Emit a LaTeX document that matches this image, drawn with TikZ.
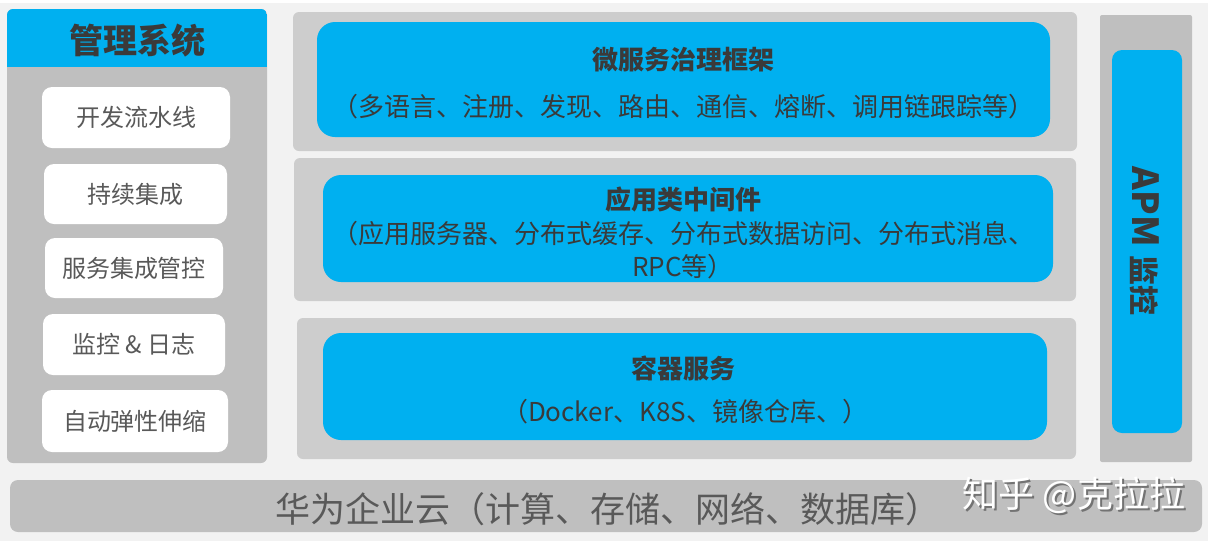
\documentclass[tikz,border=0pt]{standalone}
\usepackage{fontspec}
\setmainfont{Noto Sans CJK SC}
\definecolor{cblue}{HTML}{00B0F0}
\definecolor{bgray}{HTML}{F2F2F2}
\definecolor{pgray}{HTML}{BFBFBF}
\definecolor{mgray}{HTML}{CDCDCD}
\definecolor{tdark}{HTML}{3A3A3A}
\definecolor{tmid}{HTML}{595959}
\tikzset{
  panel/.style={fill=pgray, rounded corners=6pt},
  mpanel/.style={fill=mgray, rounded corners=6pt},
  bluebox/.style={fill=cblue, rounded corners=18pt},
  whitebox/.style={fill=white, rounded corners=10pt},
  btitle/.style={text=tdark, font=\fontsize{26}{31}\selectfont\bfseries, inner sep=0pt},
  bsub/.style={text=tdark, font=\fontsize{26}{31}\selectfont, inner sep=0pt},
  wtext/.style={text=tmid, font=\fontsize{24}{29}\selectfont, inner sep=0pt},
}
\begin{document}
\begin{tikzpicture}[x=1pt,y=-1pt]
\useasboundingbox (0,0) rectangle (1219,547);
\fill[white] (0,0) rectangle (1219,547);
\fill[bgray] (0,3) rectangle (1208,541);
% left panel
\fill[panel] (7,9) rectangle (267,463);
\begin{scope}
  \clip[rounded corners=6pt] (7,9) rectangle (267,463);
  \fill[cblue] (7,9) rectangle (267,67);
\end{scope}
\node[text=tdark, font=\fontsize{34}{40}\selectfont\bfseries, inner sep=0pt] (hdr) at (137,41) {管理系统};
\fill[whitebox] (42,87) rectangle (230,148);
\fill[whitebox] (44,164) rectangle (227,224);
\fill[whitebox] (45,238) rectangle (223,298);
\fill[whitebox] (43,314) rectangle (225,375);
\fill[whitebox] (42,390) rectangle (228,452);
\node[wtext] (w1) at (136,117) {开发流水线};
\node[wtext] (w2) at (135,194) {持续集成};
\node[wtext] (w3) at (134,268) {服务集成管控};
\node[wtext] (w4) at (134,344) {监控 \& 日志};
\node[wtext] (w5) at (135,421) {自动弹性伸缩};
% middle panels
\fill[mpanel] (293,12) rectangle (1077,151);
\fill[mpanel] (294,158) rectangle (1076,301);
\fill[mpanel] (297,318) rectangle (1076,459);
\fill[bluebox] (317,22) rectangle (1050,137);
\fill[bluebox] (323,175) rectangle (1053,282);
\fill[bluebox] (323,333) rectangle (1047,440);
\node[btitle] (t1) at (683,60) {微服务治理框架};
\node[bsub] (s1) at (683,107) {（多语言、注册、发现、路由、通信、熔断、调用链跟踪等）};
\node[btitle] (t2) at (683,200) {应用类中间件};
\node[bsub] (s2a) at (683,234) {（应用服务器、分布式缓存、分布式数据访问、分布式消息、};
\node[bsub] (s2b) at (683,267) {RPC等）};
\node[btitle] (t3) at (683,368) {容器服务};
\node[bsub] (s3) at (685,412) {（Docker、K8S、镜像仓库、）};
% APM
\fill[pgray, rounded corners=2pt] (1100,15) rectangle (1192,462);
\fill[cblue, rounded corners=10pt] (1112,50) rectangle (1182,433);
\node[text=tdark, inner sep=0pt, rotate=-90] (apm) at (1145,241) {\fontsize{36}{40}\selectfont\bfseries APM \fontsize{30}{36}\selectfont 监控};
% bottom bar
\fill[pgray, rounded corners=8pt] (10,480) rectangle (1202,532);
\node[text=tmid, font=\fontsize{35}{40}\selectfont, inner sep=0pt] (base) at (608,509) {华为企业云（计算、存储、网络、数据库）};
% watermark
\node[text=black!55, font=\fontsize{36}{40}\selectfont, inner sep=0pt] (wms) at (1076,497) {知乎 @克拉拉};
\node[text=white, font=\fontsize{36}{40}\selectfont, inner sep=0pt] (wm) at (1074,495) {知乎 @克拉拉};
\end{tikzpicture}
\end{document}
